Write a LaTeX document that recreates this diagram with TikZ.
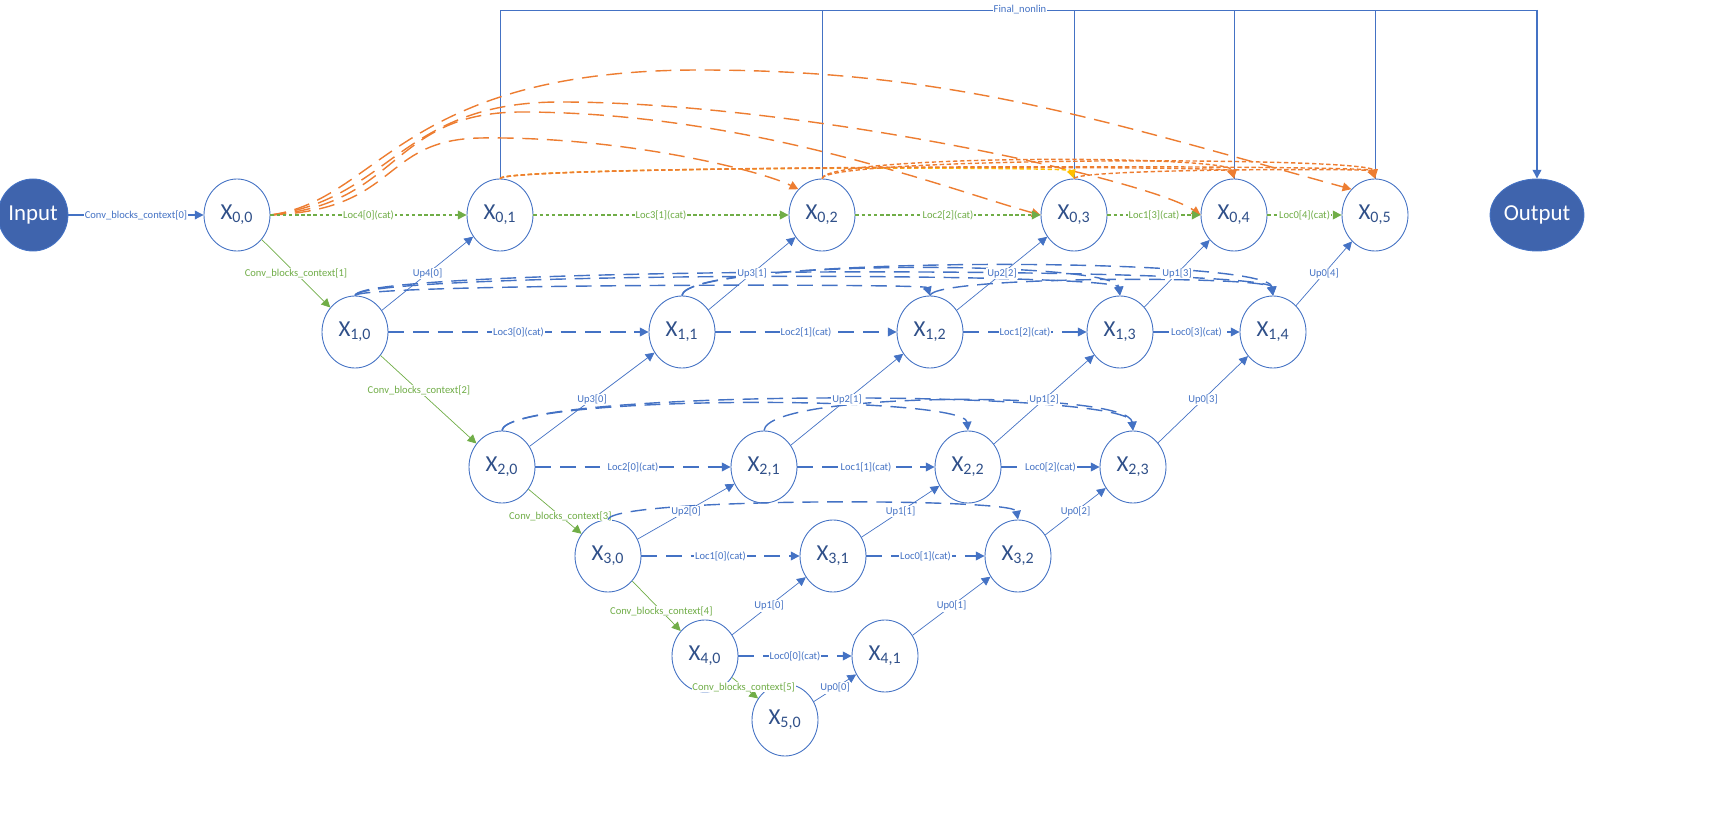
\documentclass[tikz,border=0pt]{standalone}
\usepackage{fontspec}
\setmainfont{Carlito}
\usetikzlibrary{calc,arrows.meta,shapes.geometric}
\definecolor{nb}{HTML}{4472C4}
\definecolor{fillb}{HTML}{3F64AD}
\definecolor{gr}{HTML}{70AD47}
\definecolor{org}{HTML}{ED7D31}
\definecolor{yel}{HTML}{FFC000}
\newcommand{\skiparc}[4][]{\draw[#1] (#2.north) .. controls ($(#2.north)+(4,-#4)$) and ($(#3.north)+(-4,-#4)$) .. (#3.north);}
\newcommand{\xs}[1]{X\textsubscript{#1}}
\begin{document}
\begin{tikzpicture}[x=0.02cm,y=-0.02cm,
  nd/.style={ellipse,draw=nb,line width=0.5pt,fill=white,minimum width=66*0.02cm,minimum height=72*0.02cm,inner sep=0pt,font=\fontsize{13}{14}\selectfont,text=nb!70!black},
  io/.style={nd,fill=fillb,text=white},
  lab/.style={font=\fontsize{6}{7}\selectfont,fill=white,inner sep=0.5pt},
  tip/.style={-{Triangle[length=5pt,width=5pt]}},
  conv/.style={tip,draw=gr,line width=0.4pt},
  loc0/.style={tip,draw=gr,line width=0.8pt,dash pattern=on 2pt off 1.5pt},
  loc/.style={tip,draw=nb,line width=0.8pt,dash pattern=on 9pt off 5pt},
  up/.style={tip,draw=nb,line width=0.4pt},
  ol/.style={tip,draw=org,line width=0.8pt,dash pattern=on 9pt off 5pt},
  os/.style={tip,draw=org,line width=0.8pt,dash pattern=on 2.5pt off 1.5pt},
  bl/.style={tip,draw=nb,line width=0.8pt,dash pattern=on 9pt off 5pt},
  ]
\useasboundingbox (0,0) rectangle (1735,837);
% nodes
\node[io] (in) at (33,215) {Input};
\node[io] (out) at (1537,215) {Output};
\node[nd] (x00) at (237,215) {\xs{0,0}};
\node[nd] (x01) at (500,215) {\xs{0,1}};
\node[nd] (x02) at (822,215) {\xs{0,2}};
\node[nd] (x03) at (1074,215) {\xs{0,3}};
\node[nd] (x04) at (1234,215) {\xs{0,4}};
\node[nd] (x05) at (1375,215) {\xs{0,5}};
\node[nd] (x10) at (355,332) {\xs{1,0}};
\node[nd] (x11) at (682,332) {\xs{1,1}};
\node[nd] (x12) at (930,332) {\xs{1,2}};
\node[nd] (x13) at (1120,332) {\xs{1,3}};
\node[nd] (x14) at (1273,332) {\xs{1,4}};
\node[nd] (x20) at (502,467) {\xs{2,0}};
\node[nd] (x21) at (764,467) {\xs{2,1}};
\node[nd] (x22) at (968,467) {\xs{2,2}};
\node[nd] (x23) at (1133,467) {\xs{2,3}};
\node[nd] (x30) at (608,556) {\xs{3,0}};
\node[nd] (x31) at (833,556) {\xs{3,1}};
\node[nd] (x32) at (1018,556) {\xs{3,2}};
\node[nd] (x40) at (705,656) {\xs{4,0}};
\node[nd] (x41) at (885,656) {\xs{4,1}};
\node[nd] (x50) at (785,720) {\xs{5,0}};
% final nonlin bus
\coordinate (b1) at (500,10); \coordinate (b6) at (1537,10);
\draw[nb,line width=0.5pt] (x01.north) -- (b1) -- (b6);
\draw[nb,line width=0.8pt,tip] (b6) -- (out.north);
\foreach \n in {x02,x03,x04,x05} \draw[nb,line width=0.5pt] (\n.north) -- (\n.north |- b1);
\node[lab,text=nb] at (1020,10) {Final\_nonlin};
% conv blocks
\draw[tip,draw=nb,line width=0.6pt] (in) -- node[lab,text=nb]{Conv\_blocks\_context[0]} (x00);
\draw[conv] (x00) -- node[lab,text=gr,pos=0.5]{Conv\_blocks\_context[1]} (x10);
\draw[conv] (x10) -- node[lab,text=gr,pos=0.4]{Conv\_blocks\_context[2]} (x20);
\draw[conv] (x20) -- node[lab,text=gr,pos=0.6]{Conv\_blocks\_context[3]} (x30);
\draw[conv] (x30) -- node[lab,text=gr,pos=0.6]{Conv\_blocks\_context[4]} (x40);
\draw[conv] (x40) -- node[lab,text=gr,pos=0.45]{Conv\_blocks\_context[5]} (x50);
% orange long dashed from X00
\draw[ol] (x00.east) .. controls (400,210) and (380,140) .. (480,138) .. controls (620,136) and (760,170) .. (x02.north west);
\draw[ol] (x00.east) .. controls (400,205) and (390,113) .. (520,112) .. controls (750,112) and (950,190) .. (x03.west);
\draw[ol] (x00.east) .. controls (390,200) and (400,102) .. (560,102) .. controls (800,102) and (1150,180) .. (x04.west);
\draw[ol] (x00.east) .. controls (380,200) and (400,70) .. (700,70) .. controls (950,70) and (1100,120) .. (x05.north west);
% orange short dashed
\skiparc[os,draw=yel]{x01}{x03}{12}
\skiparc[os]{x01}{x05}{14}
\skiparc[os]{x01}{x04}{13}
\skiparc[os]{x02}{x04}{24}
\skiparc[os]{x02}{x05}{22}
\skiparc[os]{x03}{x05}{10}
% blue skip arcs
\skiparc[bl]{x10}{x12}{12}
\skiparc[bl]{x10}{x13}{24}
\skiparc[bl]{x10}{x14}{30}
\skiparc[bl]{x11}{x13}{36}
\skiparc[bl]{x11}{x14}{40}
\skiparc[bl]{x12}{x14}{20}
\skiparc[bl]{x20}{x22}{36}
\skiparc[bl]{x20}{x23}{42}
\skiparc[bl]{x21}{x23}{40}
\skiparc[bl]{x30}{x32}{22}
% loc row 0
\draw[loc0] (x00) -- node[lab,text=gr]{Loc4[0](cat)} (x01);
\draw[loc0] (x01) -- node[lab,text=gr]{Loc3[1](cat)} (x02);
\draw[loc0] (x02) -- node[lab,text=gr]{Loc2[2](cat)} (x03);
\draw[loc0] (x03) -- node[lab,text=gr]{Loc1[3](cat)} (x04);
\draw[loc0] (x04) -- node[lab,text=gr]{Loc0[4](cat)} (x05);
% loc other rows
\draw[loc] (x10) -- node[lab,text=nb]{Loc3[0](cat)} (x11);
\draw[loc] (x11) -- node[lab,text=nb]{Loc2[1](cat)} (x12);
\draw[loc] (x12) -- node[lab,text=nb]{Loc1[2](cat)} (x13);
\draw[loc] (x13) -- node[lab,text=nb]{Loc0[3](cat)} (x14);
\draw[loc] (x20) -- node[lab,text=nb]{Loc2[0](cat)} (x21);
\draw[loc] (x21) -- node[lab,text=nb]{Loc1[1](cat)} (x22);
\draw[loc] (x22) -- node[lab,text=nb]{Loc0[2](cat)} (x23);
\draw[loc] (x30) -- node[lab,text=nb]{Loc1[0](cat)} (x31);
\draw[loc] (x31) -- node[lab,text=nb]{Loc0[1](cat)} (x32);
\draw[loc] (x40) -- node[lab,text=nb]{Loc0[0](cat)} (x41);
% up
\draw[up] (x10) -- node[lab,text=nb]{Up4[0]} (x01);
\draw[up] (x11) -- node[lab,text=nb]{Up3[1]} (x02);
\draw[up] (x12) -- node[lab,text=nb]{Up2[2]} (x03);
\draw[up] (x13) -- node[lab,text=nb]{Up1[3]} (x04);
\draw[up] (x14) -- node[lab,text=nb]{Up0[4]} (x05);
\draw[up] (x20) -- node[lab,text=nb]{Up3[0]} (x11);
\draw[up] (x21) -- node[lab,text=nb]{Up2[1]} (x12);
\draw[up] (x22) -- node[lab,text=nb]{Up1[2]} (x13);
\draw[up] (x23) -- node[lab,text=nb]{Up0[3]} (x14);
\draw[up] (x30) -- node[lab,text=nb]{Up2[0]} (x21);
\draw[up] (x31) -- node[lab,text=nb]{Up1[1]} (x22);
\draw[up] (x32) -- node[lab,text=nb]{Up0[2]} (x23);
\draw[up] (x40) -- node[lab,text=nb]{Up1[0]} (x31);
\draw[up] (x41) -- node[lab,text=nb]{Up0[1]} (x32);
\draw[up] (x50) -- node[lab,text=nb]{Up0[0]} (x41);
\end{tikzpicture}
\end{document}
